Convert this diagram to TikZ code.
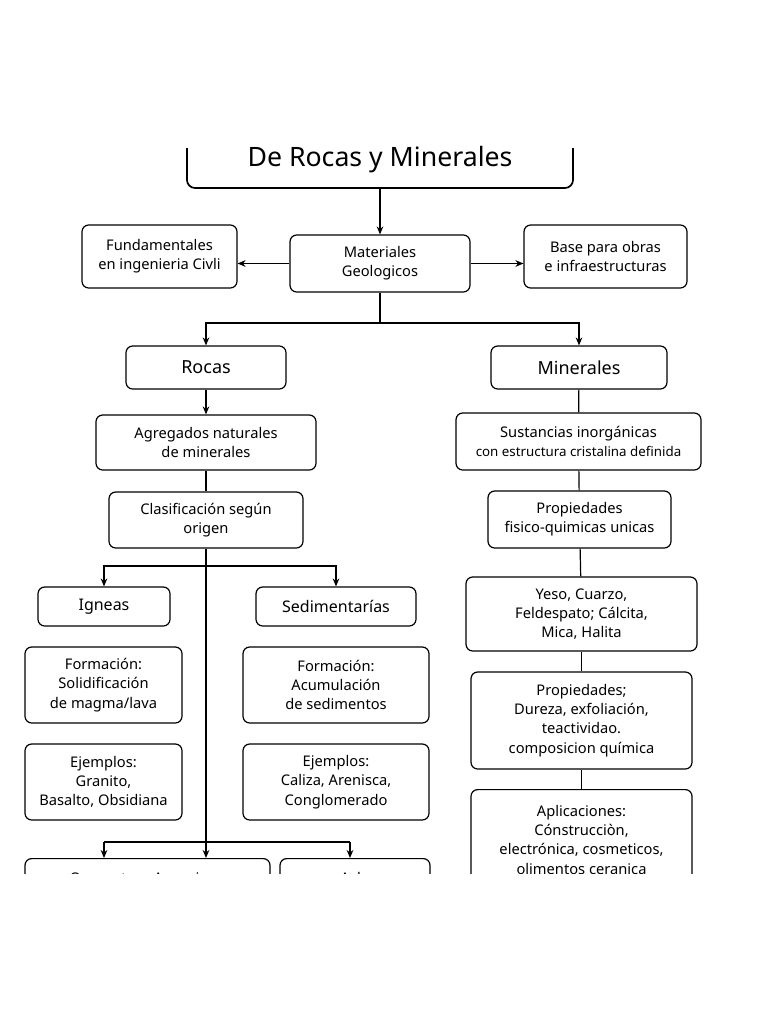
\documentclass[tikz,border=0pt]{standalone}
\usepackage{fontspec}
\setmainfont{Noto Sans}
\usetikzlibrary{arrows.meta}
\begin{document}
\begin{tikzpicture}[x=0.75pt,y=-0.75pt,
  bx/.style={draw,rounded corners=5pt,line width=0.9pt,align=center,font=\fontsize{11}{14.5}\selectfont,inner sep=0pt},
  hd/.style={bx,font=\fontsize{13.5}{16}\selectfont\bfseries},
  ar/.style={-{Stealth[length=6pt,width=5pt]},line width=0.9pt},
  ln/.style={line width=0.9pt}]
\useasboundingbox (0,0) rectangle (768,1024);
\begin{scope}
\clip (0,0) rectangle (768,873);
% title
\draw[line width=1.3pt,rounded corners=6pt] (187,148) -- (187,188) -- (573,188) -- (573,148);
\node[font=\fontsize{20}{24}\selectfont\bfseries] (t) at (380,160) {De Rocas y Minerales};
\coordinate (tb) at (380,188);
\node[bx,minimum width=180*0.75pt,minimum height=57*0.75pt] (mg) at (380,263.5) {Materiales\\Geologicos};
\node[bx,minimum width=155*0.75pt,minimum height=63*0.75pt] (fu) at (159.5,256.5) {Fundamentales\\en ingenieria Civli};
\node[bx,minimum width=163*0.75pt,minimum height=63*0.75pt] (ba) at (605.5,256.5) {Base para obras\\e infraestructuras};
\draw[ar] (tb) -- (mg);
\draw[ar] (mg.west) -- (fu.east|-mg.west);
\draw[ar] (mg.east) -- (ba.west|-mg.east);
\node[hd,minimum width=160*0.75pt,minimum height=43*0.75pt] (ro) at (206,367.5) {Rocas};
\node[hd,minimum width=176*0.75pt,minimum height=43*0.75pt] (mi) at (579,367.5) {Minerales};
\coordinate (sp) at (380,323);
\draw[ln] (mg.south) -- (sp);
\draw[ar] (sp) -| (ro.north);
\draw[ar] (sp) -| (mi.north);
\node[bx,minimum width=220*0.75pt,minimum height=55*0.75pt] (ag) at (206,442.5) {Agregados naturales\\de minerales};
\draw[ar] (ro) -- (ag);
\node[bx,minimum width=194*0.75pt,minimum height=56*0.75pt] (cl) at (206,520) {Clasificación según\\origen};
\draw[ln] (ag) -- (cl);
\node[hd,font=\fontsize{12}{14}\selectfont\bfseries,minimum width=132*0.75pt,minimum height=39*0.75pt] (ig) at (104,606.5) {Igneas};
\node[hd,font=\fontsize{12}{14}\selectfont\bfseries,minimum width=160*0.75pt,minimum height=39*0.75pt] (se) at (336,606.5) {Sedimentarías};
\coordinate (s2) at (206,566);
\draw[ln] (cl.south) -- (s2);
\draw[ar] (s2) -| (ig.north);
\draw[ar] (s2) -| (se.north);
\node[bx,minimum width=157*0.75pt,minimum height=76*0.75pt] (f1) at (103.5,685) {Formación:\\Solidificación\\de magma/lava};
\node[bx,minimum width=157*0.75pt,minimum height=76*0.75pt] (e1) at (103.5,782) {Ejemplos:\\Granito,\\Basalto, Obsidiana};
\node[bx,minimum width=186*0.75pt,minimum height=76*0.75pt] (f2) at (336,685) {Formación:\\Acumulación\\de sedimentos};
\node[bx,minimum width=186*0.75pt,minimum height=76*0.75pt] (e2) at (336,782) {Ejemplos:\\Caliza, Arenisca,\\Conglomerado};
% bottom
\node[bx,minimum width=245*0.75pt,minimum height=60*0.75pt,anchor=north] (b1) at (147.5,858) {};
\node[bx,minimum width=150*0.75pt,minimum height=60*0.75pt,anchor=north] (b2) at (355,858) {};
\node[font=\fontsize{11}{14}\selectfont] (b1t) at (147.5,880) {Oumento \quad Anerpiona};
\node[font=\fontsize{11}{14}\selectfont] (b2t) at (355,880) {Aylo};
\coordinate (s3) at (206,842);
\coordinate (l3) at (104,842);
\coordinate (r3) at (350,842);
\draw[ar] (s2) -- (206,858);
\draw[ln] (l3) -- (r3);
\draw[ar] (l3) -- (104,858);
\draw[ar] (r3) -- (350,858);
% right column
\node[bx,minimum width=245*0.75pt,minimum height=57*0.75pt] (su) at (578.5,441.5) {Sustancias inorgánicas\\{\fontsize{10}{14}\selectfont con estructura cristalina definida}};
\node[bx,minimum width=183*0.75pt,minimum height=57*0.75pt] (pr) at (579.5,519.5) {Propiedades\\fisico-quimicas unicas};
\node[bx,minimum width=231*0.75pt,minimum height=74*0.75pt] (ye) at (581.5,614) {Yeso, Cuarzo,\\Feldespato; Cálcita,\\Mica, Halita};
\node[bx,minimum width=221*0.75pt,minimum height=97*0.75pt] (pd) at (581.5,720.5) {Propiedades;\\Dureza, exfoliación,\\teactividao.\\composicion química};
\node[bx,minimum width=221*0.75pt,minimum height=100*0.75pt,anchor=north] (ap) at (581.5,789) {Aplicaciones:\\Cónstrucciòn,\\electrónica, cosmeticos,\\olimentos ceranica};
\draw[ln] (mi) -- (su);
\draw[ln] (su) -- (pr);
\draw[ln] (pr) -- (ye);
\draw[ln] (ye) -- (pd);
\draw[ln] (pd) -- (ap);
\end{scope}
\end{tikzpicture}
\end{document}
